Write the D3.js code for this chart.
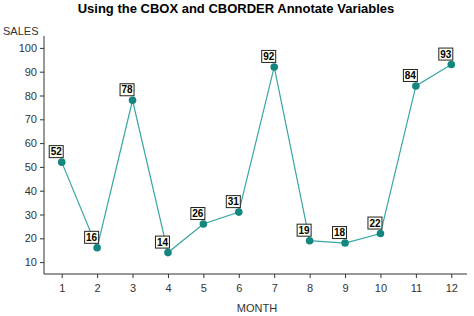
<!DOCTYPE html>
<html>
<head>
    <script src="https://d3js.org/d3.v7.min.js"></script>
    <style>
        body { margin: 0; background: #fff; font-family: "Liberation Sans", Arial, sans-serif; }
        .tick text { font: 11px "Liberation Sans", Arial, sans-serif; fill: #333; }
        .domain, .tick line { stroke: #333; }
    </style>
</head>
<body>
    <div id="chart"></div>
    <script>
        // data
        const months = [1, 2, 3, 4, 5, 6, 7, 8, 9, 10, 11, 12];
        const sales = [52, 16, 78, 14, 26, 31, 92, 19, 18, 22, 84, 93];
        const yTicks = [10, 20, 30, 40, 50, 60, 70, 80, 90, 100];

        const width = 474, height = 316;
        const svg = d3.select("#chart").append("svg")
            .attr("width", width).attr("height", height);

        const x = d3.scaleLinear().domain([0.5, 12.5]).range([44, 469]);
        const y = d3.scaleLinear().domain([5, 105]).range([274, 36]);

        svg.append("text")
            .attr("x", 236).attr("y", 12.5)
            .attr("text-anchor", "middle")
            .attr("font-size", 13).attr("font-weight", "bold")
            .text("Using the CBOX and CBORDER Annotate Variables");

        svg.append("g")
            .attr("transform", "translate(0,274)")
            .call(d3.axisBottom(x).tickValues(months).tickSize(4).tickSizeOuter(0).tickPadding(6))
            .call(g => g.select(".domain").attr("d", "M44,0H467"));

        svg.append("g")
            .attr("transform", "translate(44,0)")
            .call(d3.axisLeft(y).tickValues(yTicks).tickSize(4).tickSizeOuter(0).tickPadding(3))
            .call(g => g.select(".domain").attr("d", "M0,36V274"));

        svg.append("text")
            .attr("x", 3).attr("y", 34.5)
            .attr("font-size", 11).attr("fill", "#333")
            .text("SALES");

        svg.append("text")
            .attr("x", 257).attr("y", 312)
            .attr("text-anchor", "middle")
            .attr("font-size", 11).attr("fill", "#333")
            .text("MONTH");

        const pts = months.map((m, i) => [m, sales[i]]);

        svg.append("path")
            .datum(pts)
            .attr("fill", "none")
            .attr("stroke", "#3aa5a5")
            .attr("stroke-width", 1.2)
            .attr("d", d3.line().x(d => x(d[0])).y(d => y(d[1])));

        svg.selectAll("circle.pt")
            .data(pts)
            .join("circle")
            .attr("class", "pt")
            .attr("cx", d => x(d[0])).attr("cy", d => y(d[1]))
            .attr("r", 3.8)
            .attr("fill", "#13877f");

        const lab = svg.selectAll("g.lab")
            .data(pts)
            .join("g")
            .attr("class", "lab")
            .attr("transform", d => `translate(${x(d[0]) - 5.5},${y(d[1]) - 10.5})`);

        lab.append("rect")
            .attr("x", -7).attr("y", -6)
            .attr("width", 14).attr("height", 12)
            .attr("fill", "#fffff2")
            .attr("stroke", "#222")
            .attr("stroke-width", 1);

        lab.append("text")
            .attr("text-anchor", "middle")
            .attr("dy", "0.36em")
            .attr("font-size", 10).attr("font-weight", "bold")
            .text(d => d[1]);
    </script>
</body>
</html>
